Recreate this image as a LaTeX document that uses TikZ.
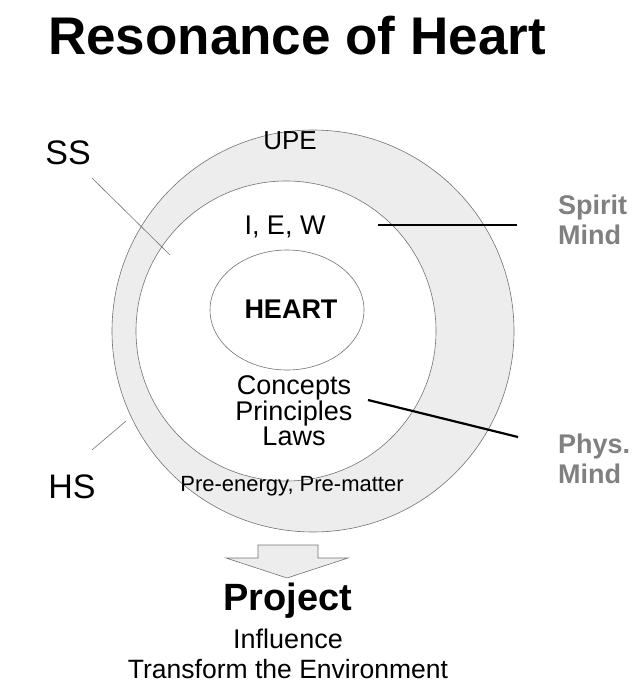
\documentclass[tikz,border=0pt]{standalone}
\usepackage{fontspec}
\setmainfont{Liberation Sans}
\begin{document}
\begin{tikzpicture}[x=1pt,y=-1pt,
  ring/.style={draw=black!55,line width=0.6pt},
  lbl/.style={font=\fontsize{26}{28}\selectfont,inner sep=0},
  side/.style={font=\fontsize{27}{30}\selectfont\bfseries,text=black!50,inner sep=0,align=left},
  link/.style={line width=2.2pt},
  lead/.style={draw=black!55,line width=0.6pt}]
\useasboundingbox (0,0) rectangle (635,693);
\fill[black!7,even odd rule] (313,331) circle (201) (286,331) circle (150);
\draw[ring] (313,331) circle (201);
\draw[ring,fill=white] (286,331) circle (150);
\draw[ring] (287,310) ellipse (77 and 60);
\node[inner sep=0,font=\fontsize{53}{56}\selectfont\bfseries] (title) at (297,36) {Resonance of Heart};
\node[lbl] (upe) at (290,141) {UPE};
\node[lbl,font=\fontsize{27}{30}\selectfont] (iew) at (285,227) {I, E, W};
\node[lbl,font=\fontsize{27}{30}\selectfont\bfseries] (heart) at (291,309) {HEART};
\node[lbl,align=center,font=\fontsize{27}{23}\selectfont] (cpl) at (294,411) {Concepts\\Principles\\Laws};
\node[lbl,font=\fontsize{22}{24}\selectfont] (pre) at (292,486) {Pre-energy, Pre-matter};
\node[lbl,font=\fontsize{34}{36}\selectfont] (ss) at (68,153) {SS};
\node[lbl,font=\fontsize{34}{36}\selectfont] (hs) at (72,487) {HS};
\node[side,anchor=west] (spirit) at (558,220) {Spirit\\Mind};
\node[side,anchor=west] (phys) at (558,459) {Phys.\\Mind};
\coordinate (s1) at (378,225); \coordinate (s2) at (517,225);
\coordinate (p1) at (368,400); \coordinate (p2) at (518,437);
\draw[link] (s1) -- (s2);
\draw[link] (p1) -- (p2);
\coordinate (ss1) at (92,178); \coordinate (ss2) at (170,255);
\coordinate (hs1) at (92,450); \coordinate (hs2) at (126,421);
\draw[lead] (ss1) -- (ss2);
\draw[lead] (hs1) -- (hs2);
\draw[ring,fill=black!7] (258,545) -- (318,545) -- (318,558) -- (348,558) -- (287,578) -- (226,558) -- (258,558) -- cycle;
\node[inner sep=0,font=\fontsize{38}{40}\selectfont\bfseries] (proj) at (288,601) {Project};
\node[lbl,font=\fontsize{27}{30}\selectfont] (inf) at (288,639) {Influence};
\node[lbl,font=\fontsize{26.5}{28}\selectfont] (tr) at (288,669) {Transform the Environment};
\end{tikzpicture}
\end{document}
